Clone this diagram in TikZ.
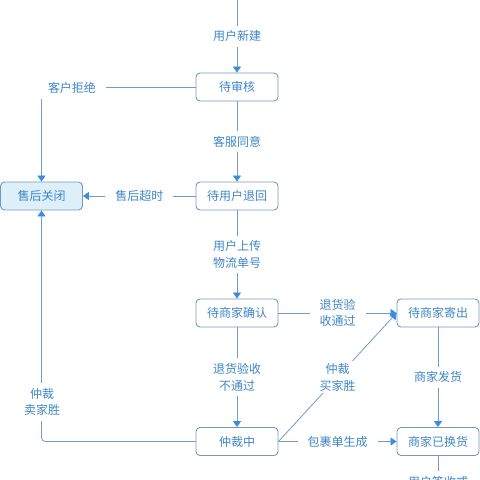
\documentclass[tikz,border=0pt]{standalone}
\usepackage{fontspec}
\setmainfont{Noto Sans CJK SC}
\usetikzlibrary{arrows.meta}
\definecolor{boxc}{HTML}{7898B8}
\definecolor{txtc}{HTML}{3F86C8}
\definecolor{linec}{HTML}{6E9CCB}
\definecolor{arrc}{HTML}{3A8CE0}
\definecolor{closefill}{HTML}{DDEFF8}
\tikzset{
  state/.style={draw=boxc, line width=0.9pt, rounded corners=4pt, minimum width=82pt, minimum height=28pt, inner sep=0pt, text=txtc, font=\fontsize{12}{16}\selectfont, fill=white},
  lbl/.style={fill=white, text=txtc, inner xsep=10pt, inner ysep=5pt, font=\fontsize{12}{16.5}\selectfont, align=center},
  conn/.style={draw=linec, line width=0.8pt},
  arr/.style={conn, -{Triangle[length=6pt,width=8pt,color=arrc]}},
}
\begin{document}
\begin{tikzpicture}[x=1pt,y=-1pt]
\useasboundingbox (0,0) rectangle (480,480);
\clip (0,0) rectangle (480,480);
\node[state] (shenhe) at (237,87) {待审核};
\node[state] (tuihui) at (237,196) {待用户退回};
\node[state, fill=closefill] (close) at (41.5,196) {售后关闭};
\node[state] (queren) at (237,313) {待商家确认};
\node[state] (jichu) at (438,313) {待商家寄出};
\node[state] (zhongcai) at (237,441.5) {仲裁中};
\node[state] (huanhuo) at (438,441.5) {商家已换货};
\coordinate (top) at (237,0);
\coordinate (bot) at (438,480);

\draw[arr] (top) -- node[lbl] {用户新建} (shenhe.north);
\draw[arr] (shenhe.west) -| (close.north);
\node[lbl] (jujue) at (72,88) {客户拒绝};
\draw[arr] (shenhe.south) -- node[lbl] {客服同意} (tuihui.north);
\draw[arr] (tuihui.west) -- node[lbl] {售后超时} (close.east);
\draw[arr] (tuihui.south) -- node[lbl] {用户上传\\物流单号} (queren.north);
\draw[arr] (queren.east) -- node[lbl] {退货验\\收通过} (jichu.west);
\draw[arr] (queren.south) -- node[lbl] {退货验收\\不通过} (zhongcai.north);
\draw[arr] (zhongcai.east) -- node[lbl, inner xsep=2pt, inner ysep=2pt] {仲裁\\买家胜} (jichu.west);
\draw[arr] (zhongcai.east) -- node[lbl] {包裹单生成} (huanhuo.west);
\draw[arr] (jichu.south) -- node[lbl] {商家发货} (huanhuo.north);
\draw[arr, rounded corners=4pt] (zhongcai.west) -| (close.south);
\node[lbl] (maijia) at (42,402) {仲裁\\卖家胜};
\draw[conn] (huanhuo.south) -- (bot);
\node[lbl, anchor=north] (qianshou) at (438,471) {用户签收或};
\end{tikzpicture}
\end{document}
